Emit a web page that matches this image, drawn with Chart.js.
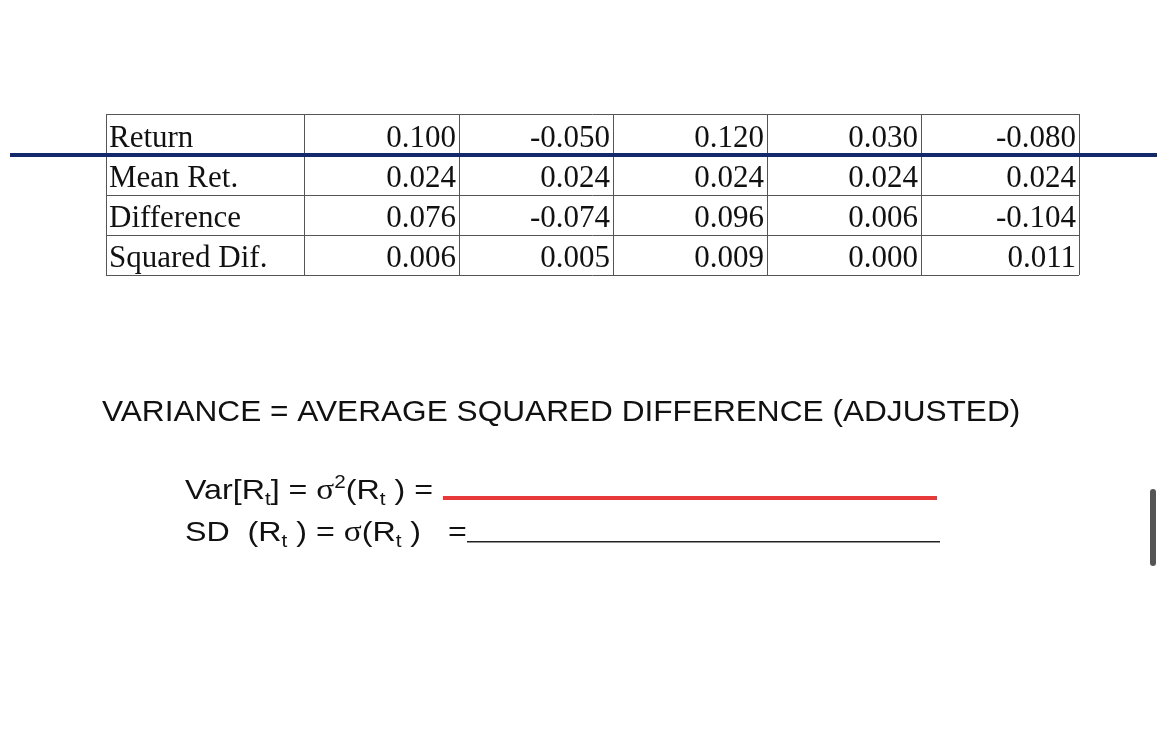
<!DOCTYPE html>
<html>
<head>
<meta charset="utf-8">
<script src="https://cdn.jsdelivr.net/npm/chart.js@4/dist/chart.umd.min.js"></script>
<style>
  body { margin: 0; background: #fff; }
  #wrap { width: 1163px; height: 746px; position: relative; }
</style>
</head>
<body>
<div id="wrap"><canvas id="table-chart"></canvas></div>
<script>
// Table data
const rowLabels = ['Return', 'Mean Ret.', 'Difference', 'Squared Dif.'];
const returns = ['0.100', '-0.050', '0.120', '0.030', '-0.080'];
const meanRet = ['0.024', '0.024', '0.024', '0.024', '0.024'];
const difference = ['0.076', '-0.074', '0.096', '0.006', '-0.104'];
const squaredDif = ['0.006', '0.005', '0.009', '0.000', '0.011'];
const rows = [returns, meanRet, difference, squaredDif];

// grid boundaries in page units (x and y scales span the page)
const colEdges = [106, 304, 459, 613, 767, 921, 1079];
const rowEdges = [114, 155, 195, 235, 275];

const tablePlugin = {
    id: 'tablePlugin',
    afterDraw(chart) {
        const ctx = chart.ctx;
        const x = chart.scales.x, y = chart.scales.y;
        const px = v => x.getPixelForValue(v);
        const py = v => y.getPixelForValue(v);
        ctx.save();

        // cell borders
        ctx.strokeStyle = '#555';
        ctx.lineWidth = 1;
        colEdges.forEach(c => {
            ctx.beginPath();
            ctx.moveTo(px(c) + 0.5, py(rowEdges[0]));
            ctx.lineTo(px(c) + 0.5, py(rowEdges[rowEdges.length - 1]));
            ctx.stroke();
        });
        rowEdges.forEach(r => {
            ctx.beginPath();
            ctx.moveTo(px(colEdges[0]), py(r) + 0.5);
            ctx.lineTo(px(colEdges[colEdges.length - 1]), py(r) + 0.5);
            ctx.stroke();
        });

        // cell text
        ctx.fillStyle = '#111';
        ctx.font = '31px "Liberation Serif", serif';
        ctx.textBaseline = 'alphabetic';
        rowLabels.forEach((lab, i) => {
            const base = py(rowEdges[i + 1]) - 8;
            ctx.textAlign = 'left';
            ctx.fillText(lab, px(colEdges[0]) + 3, base);
            ctx.textAlign = 'right';
            rows[i].forEach((v, j) => {
                ctx.fillText(v, px(colEdges[j + 2]) - 3, base);
            });
        });

        // dark blue rule across page
        ctx.fillStyle = '#13296b';
        ctx.fillRect(px(10), py(153), px(1157) - px(10), 4);

        // heading (stretched horizontally)
        ctx.fillStyle = '#111';
        ctx.textAlign = 'left';
        ctx.save();
        ctx.translate(px(102), py(421));
        ctx.scale(1.09, 1);
        ctx.font = '29px "Liberation Sans", Arial, sans-serif';
        ctx.fillText('VARIANCE = AVERAGE SQUARED DIFFERENCE (ADJUSTED)', 0, 0);
        ctx.restore();

        // formula lines
        const parts = (list, x0, base) => {
            ctx.save();
            ctx.translate(x0, base);
            ctx.scale(1.15, 1);
            let cx = 0;
            list.forEach(([t, kind]) => {
                if (kind === 'sub') {
                    ctx.font = '18px "Liberation Sans", Arial, sans-serif';
                    ctx.fillText(t, cx, 6);
                } else if (kind === 'sup') {
                    ctx.font = '18px "Liberation Sans", Arial, sans-serif';
                    ctx.fillText(t, cx, -11);
                } else if (kind === 'sig') {
                    ctx.font = '29px "Liberation Serif", serif';
                    ctx.fillText(t, cx, 0);
                } else {
                    ctx.font = '28px "Liberation Sans", Arial, sans-serif';
                    ctx.fillText(t, cx, 0);
                }
                cx += ctx.measureText(t).width;
            });
            ctx.restore();
        };
        parts([['Var[R'], ['t', 'sub'], ['] = '], ['σ', 'sig'], ['2', 'sup'], ['(R'], ['t', 'sub'], [' ) =']], px(185), py(499));
        parts([['SD  (R'], ['t', 'sub'], [' ) = '], ['σ', 'sig'], ['(R'], ['t', 'sub'], [' )   =']], px(185), py(541));

        ctx.fillStyle = '#e8393a';
        ctx.fillRect(px(443), py(496), px(937) - px(443), 4);
        ctx.fillStyle = '#222';
        ctx.fillRect(px(467), py(541), px(940) - px(467), 1.5);

        // scrollbar
        ctx.fillStyle = '#555';
        ctx.beginPath();
        ctx.roundRect(px(1150), py(489), 6, py(566) - py(489), 3);
        ctx.fill();
        ctx.restore();
    }
};

new Chart(document.getElementById('table-chart').getContext('2d'), {
    type: 'scatter',
    data: { datasets: [{ data: [] }] },
    options: {
        responsive: true,
        maintainAspectRatio: false,
        animation: false,
        layout: { padding: 0 },
        plugins: { legend: { display: false }, tooltip: { enabled: false } },
        scales: {
            x: { type: 'linear', min: 0, max: 1163, display: false },
            y: { type: 'linear', min: 0, max: 746, reverse: true, display: false }
        }
    },
    plugins: [tablePlugin]
});
</script>
</body>
</html>
